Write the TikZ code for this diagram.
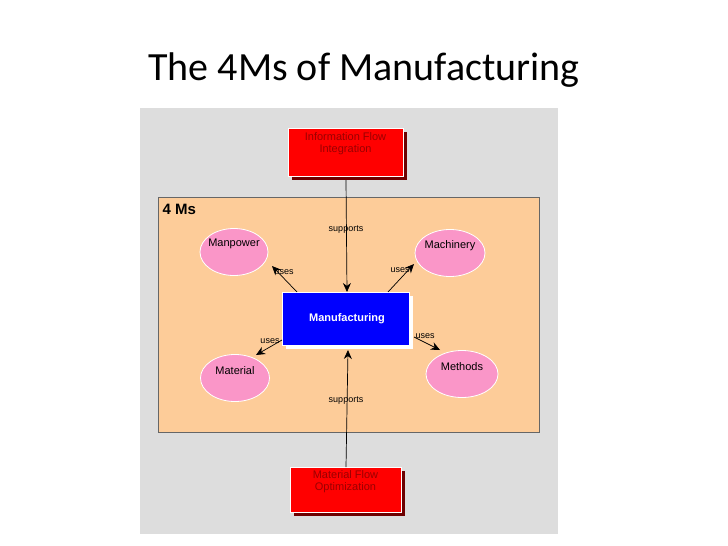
\documentclass[tikz,border=0pt]{standalone}
\usepackage{fontspec}
\setmainfont{Liberation Sans}
\newfontfamily\titlefont{Carlito}
\usetikzlibrary{arrows.meta,shapes.geometric}
\definecolor{panel}{RGB}{221,221,221}
\definecolor{peach}{RGB}{253,204,153}
\definecolor{pinkfill}{RGB}{250,150,200}
\definecolor{darkred}{RGB}{110,0,0}
\begin{document}
\begin{tikzpicture}[x=1pt,y=-1pt,
  lab/.style={font=\fontsize{9}{10}\selectfont, inner sep=0.5pt},
  ell/.style={draw=white, line width=0.8pt, fill=pinkfill, ellipse, minimum width=#1, minimum height=47},
  txt/.style={font=\fontsize{11}{12}\selectfont, align=center},
  arr/.style={-{Stealth[length=9pt,width=8pt]}, line width=0.7pt}]
\useasboundingbox (0,0) rectangle (728,546);
\fill[white] (0,0) rectangle (728,546);
\node[font=\titlefont\fontsize{40}{48}\selectfont] (title) at (364,70) {The 4Ms of Manufacturing};
\fill[panel] (140,108) rectangle (558,534);
\draw[fill=peach, draw=black!60, line width=0.6pt] (158,197) rectangle (539,432);
\node[font=\bfseries\fontsize{15}{16}\selectfont, anchor=north west] (fm) at (159,201) {4 Ms};
% red boxes
\fill[darkred] (292,132) rectangle (407,180);
\draw[fill=red, draw=white, line width=0.8pt] (288,128) rectangle (403,176);
\node[txt, text=darkred!70!red, anchor=north] (info) at (345.5,129) {Information Flow\\Integration};
\coordinate (infoB) at (346,180);
\fill[darkred] (294,471) rectangle (405,516);
\draw[fill=red, draw=white, line width=0.8pt] (290,467) rectangle (401,512);
\node[txt, text=darkred!70!red, anchor=north] (mat) at (345.5,467) {Material Flow\\Optimization};
\coordinate (matT) at (346,467);
% blue box
\fill[white] (286,296) rectangle (413,349);
\draw[fill=blue, draw=white, line width=0.8pt] (282,292) rectangle (409,345);
\node[font=\bfseries\fontsize{11}{12}\selectfont, text=white] (manu) at (347,319) {Manufacturing};
% ellipses
\node[ell=68] (mp) at (234,252) {};
\node[txt] at (234,244) {Manpower};
\node[ell=70] (mc) at (450,253) {};
\node[txt] at (450,246) {Machinery};
\node[ell=69] (ml) at (235,378) {};
\node[txt] at (235,371) {Material};
\node[ell=72] (mt) at (462,374) {};
\node[txt] at (462,367) {Methods};
% connectors
\coordinate (mTop) at (347,292);
\coordinate (mBot) at (348,350);
\draw[arr] (infoB) -- (mTop);
\draw[arr] (matT) -- (mBot);
\coordinate (a1) at (297,292); \coordinate (b1) at (272,266);
\coordinate (a2) at (388,292); \coordinate (b2) at (414,264);
\coordinate (a3) at (282,340); \coordinate (b3) at (256,355);
\coordinate (a4) at (414,337); \coordinate (b4) at (440,350);
\draw[arr] (a1) -- (b1);
\draw[arr] (a2) -- (b2);
\draw[arr] (a3) -- (b3);
\draw[arr] (a4) -- (b4);
\node[lab] (s1) at (346,230) {supports};
\node[lab] (s2) at (346,401) {supports};
\node[lab] (u1) at (284,272) {uses};
\node[lab] (u2) at (400,270) {uses};
\node[lab] (u3) at (270,341) {uses};
\node[lab] (u4) at (425,336) {uses};
\end{tikzpicture}
\end{document}
